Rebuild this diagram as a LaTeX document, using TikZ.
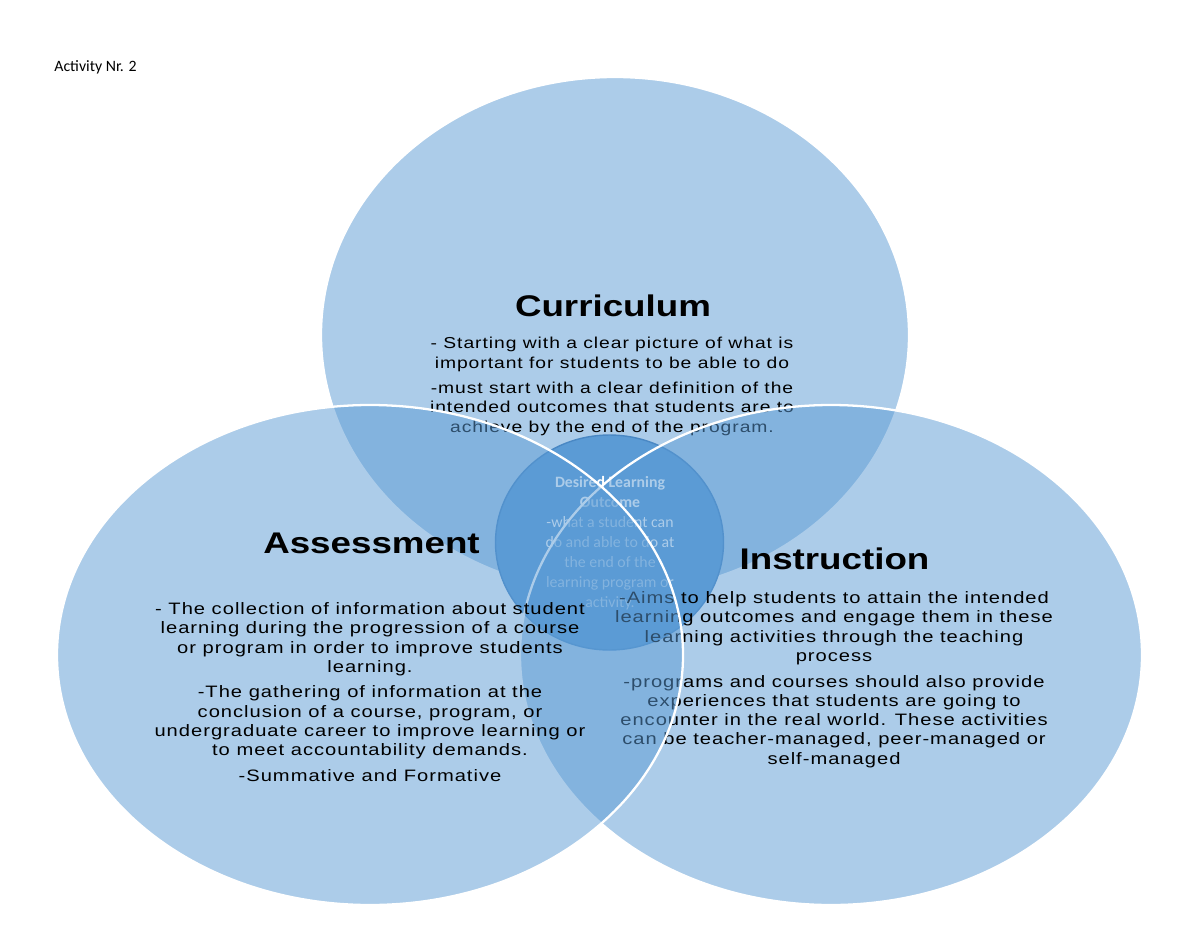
\documentclass[tikz,border=0pt]{standalone}
\usepackage{fontspec}
\usepackage{tikz}
\usetikzlibrary{positioning}
\setmainfont{Liberation Sans}
\newfontfamily\bodyfont[FakeStretch=1.22,LetterSpace=6]{Liberation Sans}
\newfontfamily\headfont[FakeStretch=1.23]{Liberation Sans}
\newfontfamily\calfont{Carlito}
\definecolor{vennblue}{HTML}{5B9BD5}
\definecolor{rimblue}{HTML}{4A88C4}
\tikzset{
  venn/.style={fill=vennblue, fill opacity=0.5, draw=white, line width=1.3pt},
  title/.style={font=\headfont\bfseries\fontsize{17}{20}\selectfont, inner sep=0pt, anchor=base},
  body/.style={font=\bodyfont\fontsize{#1}{10.9}\selectfont, align=center, inner sep=0pt, anchor=base},
  body/.default=9,
  core/.style={font=\calfont\fontsize{9}{11.3}\selectfont, align=center, inner sep=0pt, anchor=base, text=white}
}
\begin{document}
\begin{tikzpicture}[x=0.02cm, y=-0.02cm]
    \fill[white] (0,0) rectangle (1200,927);
    \useasboundingbox (0,0) rectangle (1200,927);
    % curriculum
    \draw[venn] (615,335) ellipse [x radius=294, y radius=258];
    \node[title] (curr) at (613,316) {Curriculum};
    \node[body] (currtext) at (612,432) {- Starting with a clear picture of what is\\important for students to be able to do\\[3.7pt]-must start with a clear definition of the\\intended outcomes that students are to\\achieve by the end of the program.};
    % desired learning outcome
    \fill[vennblue, draw=rimblue, line width=0.8pt] (609.5,542.5) ellipse [x radius=114, y radius=107.5];
    \node[core] (goal) at (610,607) {\textbf{Desired Learning}\\\textbf{Outcome}\\-what a student can\\do and able to do at\\the end of the\\learning program or\\activity.};
    % instruction
    \draw[venn] (831,655) ellipse [x radius=311, y radius=250];
    \node[title] (instr) at (834.5,569) {Instruction};
    \node[body=9.4] (instrtext) at (834,764) {-Aims to help students to attain the intended\\learning outcomes and engage them in these\\learning activities through the teaching\\process\\[4pt]-programs and courses should also provide\\experiences that students are going to\\encounter in the real world. These activities\\can be teacher-managed, peer-managed or\\self-managed};
    % assessment
    \draw[venn] (370,655) ellipse [x radius=313, y radius=250];
    \node[title] (assess) at (371.5,553) {Assessment};
    \node[body=9.4] (assesstext) at (370,781) {- The collection of information about student\\learning during the progression of a course\\or program in order to improve students\\learning.\\[3.7pt]-The gathering of information at the\\conclusion of a course, program, or\\undergraduate career to improve learning or\\to meet accountability demands.\\[3.7pt]-Summative and Formative};
    \node[font=\calfont\fontsize{9}{11}\selectfont, anchor=base west, inner sep=0pt] (act) at (54,71) {Activity Nr. 2};
\end{tikzpicture}
\end{document}
